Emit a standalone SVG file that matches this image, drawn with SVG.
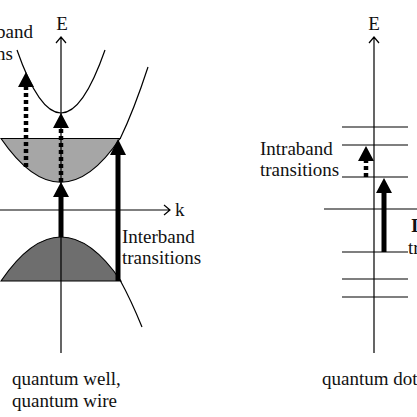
<svg xmlns="http://www.w3.org/2000/svg" width="417" height="417" viewBox="0 0 417 417">
<style>
.t{font-family:"Liberation Serif","Times New Roman",serif;font-size:19px;fill:#111}
.ax{stroke:#000;stroke-width:1.2;fill:none}
.cv{stroke:#000;stroke-width:1.2;fill:none}
.lv{stroke:#000;stroke-width:1.2}
.solid{stroke:#000;stroke-width:5;fill:none}
.dot{stroke:#000;stroke-width:4.5;stroke-dasharray:4,3;fill:none}
.head{fill:#000}
</style>
<rect width="417" height="417" fill="#fff"/>
<g id="bands">
<path id="conduction-band" d="M1,138.5 Q61,226 120,138.5 Z" fill="#a6a6a6" stroke="#000" stroke-width="1.2"/>
<path id="valence-band" d="M1,281 Q61,193 121,281 Z" fill="#6e6e6e" stroke="#000" stroke-width="1.2"/>
</g>
<g id="curves">
<path class="cv" d="M17,50 Q61,176 105,50"/>
<path class="cv" d="M148,67 Q134,110 120,139"/>
<path class="cv" d="M120,280 Q131,300 142,327"/>
</g>
<g id="axes">
<path class="ax" d="M61,353 V37 M56,43 L61,37 L66,43"/>
<path class="ax" d="M0,210 H170 M164,205 L170,210 L164,215"/>
<path class="ax" d="M374,353 V37 M369,43 L374,37 L379,43"/>
</g>
<g id="levels">
<line class="lv" x1="342" y1="127" x2="408" y2="127"/>
<line class="lv" x1="342" y1="145" x2="408" y2="145"/>
<line class="lv" x1="342" y1="177" x2="408" y2="177"/>
<line class="lv" x1="324" y1="209" x2="417" y2="209"/>
<line class="lv" x1="342" y1="252" x2="408" y2="252"/>
<line class="lv" x1="342" y1="279" x2="408" y2="279"/>
<line class="lv" x1="342" y1="297" x2="408" y2="297"/>
</g>
<g id="connectors">
<path class="dot" d="M26,167 V86"/>
<polygon class="head" points="26,72 18,87 34,87"/>
<path class="dot" d="M61,182 V128"/>
<polygon class="head" points="61,113 53,128 69,128"/>
<path class="solid" d="M61,237 V196"/>
<polygon class="head" points="61,182 53,197 69,197"/>
<path class="solid" d="M118,281 V154"/>
<polygon class="head" points="118,139 110,155 126,155"/>
<path class="dot" d="M366,177 V161"/>
<polygon class="head" points="366,146 358,161 374,161"/>
<path class="solid" d="M384,252 V192"/>
<polygon class="head" points="384,178 376,193 392,193"/>
</g>
<g id="labels">
<text class="t" x="62" y="30" text-anchor="middle">E</text>
<text class="t" x="374" y="30" text-anchor="middle">E</text>
<text class="t" x="175" y="216">k</text>
<text class="t" x="33" y="38" text-anchor="end">Intraband</text>
<text class="t" x="13" y="60" text-anchor="end">transitions</text>
<text class="t" x="122" y="243">Interband</text>
<text class="t" x="122" y="264">transitions</text>
<text class="t" x="12" y="385">quantum well,</text>
<text class="t" x="12" y="407">quantum wire</text>
<text class="t" x="260" y="155">Intraband</text>
<text class="t" x="260" y="176">transitions</text>
<text class="t" x="411" y="232" font-weight="bold">Interband</text>
<text class="t" x="408" y="254">transitions</text>
<text class="t" x="322" y="385">quantum dot</text>
</g>
</svg>
